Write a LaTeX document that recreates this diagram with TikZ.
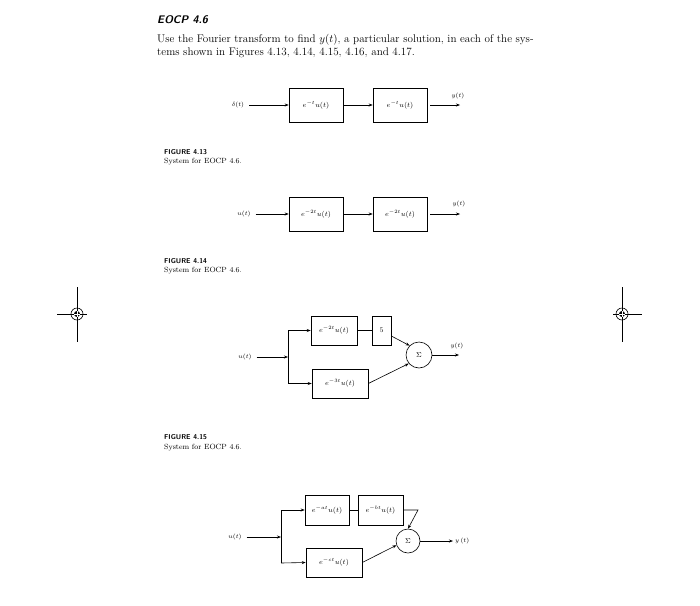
\documentclass[tikz,border=0pt]{standalone}
\usetikzlibrary{arrows.meta}
\begin{document}
\begin{tikzpicture}[x=1pt,y=-1pt,
  blk/.style={draw,line width=0.6pt,inner sep=0pt,font=\fontsize{7}{8}\selectfont},
  sumn/.style={draw,circle,line width=0.6pt,inner sep=0pt,font=\fontsize{7.5}{8}\selectfont},
  lbl/.style={inner sep=0pt,font=\fontsize{6.5}{7}\selectfont},
  arr/.style={-{Stealth[length=4pt,width=3pt]},line width=0.6pt},
  ln/.style={line width=0.6pt},
  cap1/.style={anchor=west,inner sep=0pt,font=\sffamily\bfseries\fontsize{7}{8}\selectfont},
  cap2/.style={anchor=west,inner sep=0pt,font=\fontsize{7.5}{8}\selectfont},
  body/.style={anchor=west,inner sep=0pt,font=\fontsize{11.1}{13}\selectfont},
  reg/.style={line width=0.6pt}]
\useasboundingbox (0,0) rectangle (700,605);
\fill[white] (0,0) rectangle (700,605);

% header
\node[anchor=west,inner sep=0pt,font=\sffamily\slshape\fontsize{11}{12}\selectfont] (title) at (157,20) {\textbf{EOCP 4.6}};
\node[body] (l1) at (157,40) {Use the Fourier transform to find $y(t)$, a particular solution, in each of the sys-};
\node[body] (l2) at (157,52.5) {tems shown in Figures 4.13, 4.14, 4.15, 4.16, and 4.17.};

% Figure 4.13
\node[lbl] (a_in) at (238,105) {$\delta(t)$};
\node[blk,minimum width=54pt,minimum height=34pt] (a_b1) at (316,105) {$e^{-t}u(t)$};
\node[blk,minimum width=54pt,minimum height=34pt] (a_b2) at (400,105) {$e^{-t}u(t)$};
\coordinate (a_out) at (460,105);
\node[lbl] (a_y) at (458,96) {$y(t)$};
\draw[arr] (a_in.east)++(5,0) -- (a_b1.west);
\draw[arr] (a_b1) -- (a_b2);
\draw[arr] (a_b2.east)++(3,0) -- (a_out);
\node[cap1] (c13a) at (164,152) {FIGURE 4.13};
\node[cap2] (c13b) at (164,162) {System for EOCP 4.6.};

% Figure 4.14
\node[lbl] (b_in) at (244,214) {$u(t)$};
\node[blk,minimum width=54pt,minimum height=34pt] (b_b1) at (316,214) {$e^{-2t}u(t)$};
\node[blk,minimum width=54pt,minimum height=34pt] (b_b2) at (400,214) {$e^{-2t}u(t)$};
\coordinate (b_out) at (460,214);
\node[lbl] (b_y) at (459,204) {$y(t)$};
\draw[arr] (b_in.east)++(5,0) -- (b_b1.west);
\draw[arr] (b_b1) -- (b_b2);
\draw[arr] (b_b2.east)++(3,0) -- (b_out);
\node[cap1] (c14a) at (164,261) {FIGURE 4.14};
\node[cap2] (c14b) at (164,271) {System for EOCP 4.6.};

% Figure 4.15
\node[lbl] (c_in) at (245,357) {$u(t)$};
\coordinate (c_j) at (288,357);
\coordinate (c_jt) at (288,330.5);
\coordinate (c_jb) at (288,383.5);
\node[blk,minimum width=46pt,minimum height=29pt] (c_b1) at (334,330.5) {$e^{-2t}u(t)$};
\node[blk,minimum width=19pt,minimum height=29pt] (c_five) at (381.5,330.5) {5};
\node[sumn,minimum size=26pt] (c_sum) at (419,355) {$\Sigma$};
\node[blk,minimum width=56pt,minimum height=29pt] (c_b3) at (340,383.5) {$e^{-3t}u(t)$};
\coordinate (c_out) at (459,355);
\node[lbl] (c_y) at (457,346) {$y(t)$};
\draw[arr] (c_in.east)++(5,0) -- (c_j);
\draw[ln] (c_jt) -- (c_jb);
\draw[arr] (c_jt) -- (c_b1.west);
\draw[arr] (c_jb) -- (c_b3.west);
\draw[ln] (c_b1) -- (c_five);
\draw[arr] (c_five.east|-381,336) -- (c_sum.135);
\draw[arr] (c_b3.east) -- (c_sum.220);
\draw[arr] (c_sum) -- (c_out);
\node[cap1] (c15a) at (164,437) {FIGURE 4.15};
\node[cap2] (c15b) at (164,448) {System for EOCP 4.6.};

% Figure 4.16
\node[lbl] (d_in) at (235,537) {$u(t)$};
\coordinate (d_j) at (281,537);
\coordinate (d_jt) at (281,510);
\coordinate (d_jb) at (281,563);
\node[blk,minimum width=44pt,minimum height=30pt] (d_b1) at (327,510) {$e^{-at}u(t)$};
\node[blk,minimum width=45pt,minimum height=30pt] (d_b2) at (380.5,510) {$e^{-bt}u(t)$};
\node[sumn,minimum size=24pt] (d_sum) at (408,541) {$\Sigma$};
\node[blk,minimum width=56pt,minimum height=29pt] (d_b3) at (334,562.5) {$e^{-ct}u(t)$};
\coordinate (d_bend) at (418,510);
\coordinate (d_out) at (453,541);
\node[lbl,anchor=west] (d_y) at (455,541) {$y\,(t)$};
\draw[arr] (d_in.east)++(5,0) -- (d_j);
\draw[ln] (d_jt) -- (d_jb);
\draw[arr] (d_jt) -- (d_b1.west);
\draw[arr] (d_jb) -- (d_b3.west);
\draw[ln] (d_b1) -- (d_b2);
\draw[arr] (d_b2.east) -- (d_bend) -- (d_sum.north);
\draw[arr] (d_b3.east) -- (d_sum.200);
\draw[arr] (d_sum) -- (d_out);

% registration marks
\foreach \cx/\xl/\xr in {77/57/87, 622/613/642} {
  \draw[reg] (\cx,287) -- (\cx,342);
  \draw[reg] (\xl,314) -- (\xr,314);
  \draw[reg] (\cx,314) circle (6);
  \fill (\cx,314) circle (3);
  \draw[white,line width=0.4pt] (\cx-3,314) -- (\cx+3,314) (\cx,311) -- (\cx,317);
}
\end{tikzpicture}
\end{document}
